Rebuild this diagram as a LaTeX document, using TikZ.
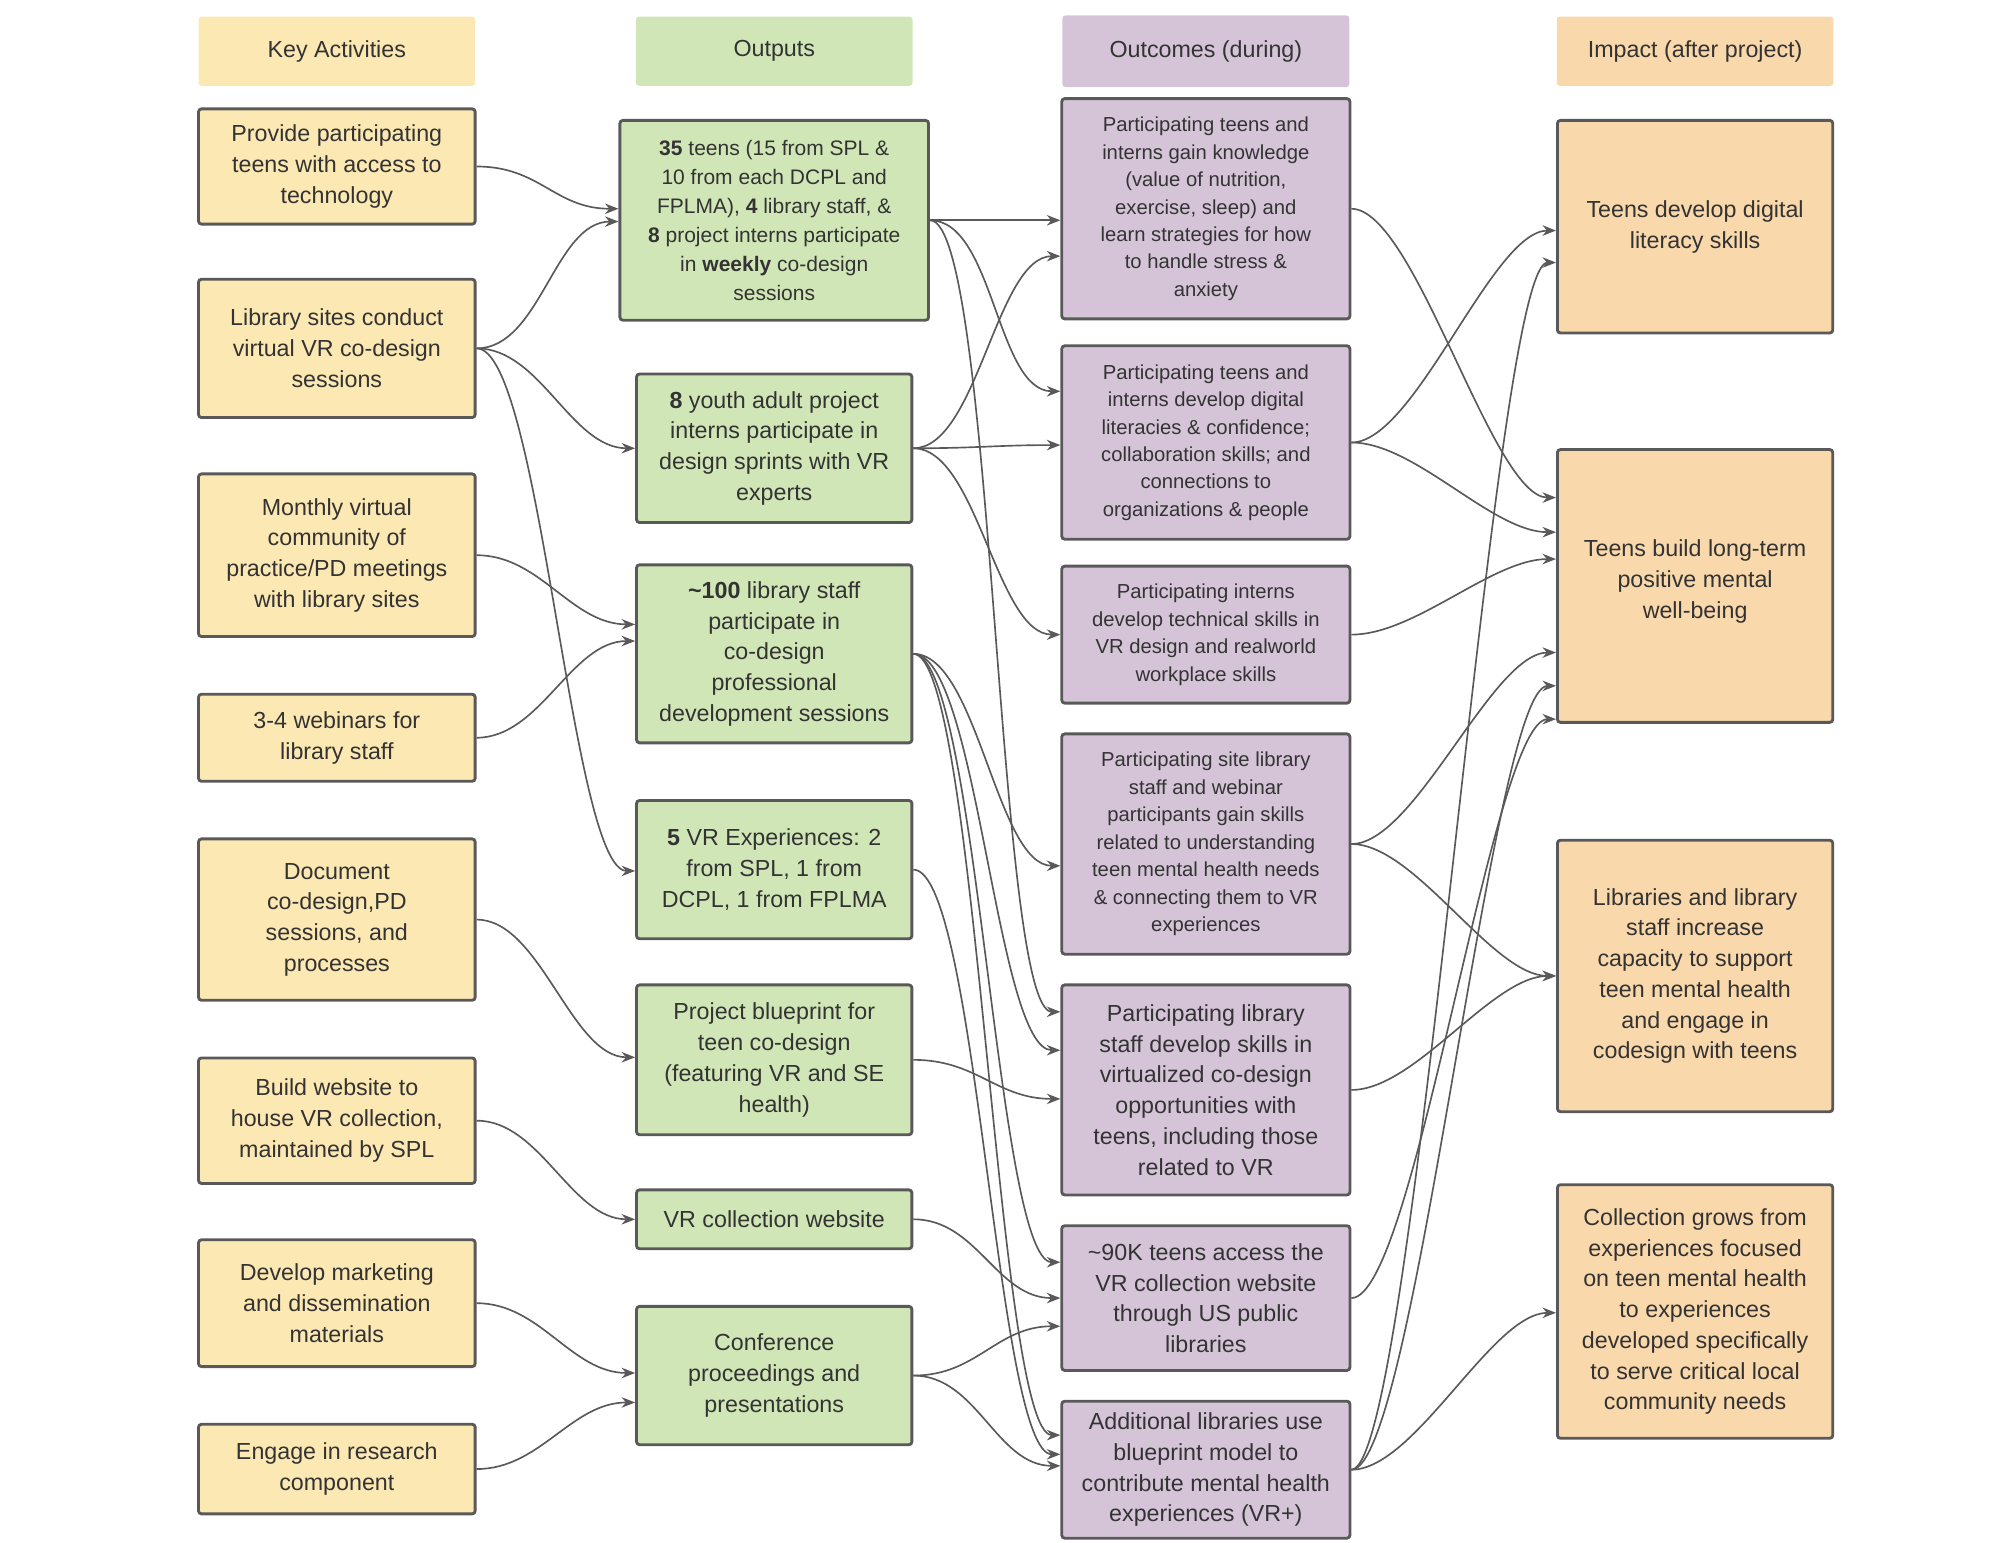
\documentclass[tikz,border=0pt]{standalone}
\usepackage{fontspec}
\setmainfont{Liberation Sans}
\usetikzlibrary{calc,arrows.meta}
\definecolor{yel}{HTML}{FCE8B2}
\definecolor{grn}{HTML}{D1E6B6}
\definecolor{pur}{HTML}{D5C4D8}
\definecolor{org}{HTML}{F9D8AC}
\definecolor{bd}{HTML}{595959}
\definecolor{tx}{HTML}{333333}
\tikzset{
 bx/.style n args={2}{draw=bd,line width=1.9pt,rounded corners=2pt,align=center,text=tx,
   minimum width=#1*0.03cm,minimum height=#2*0.03cm,inner sep=0pt,
   font=\fontsize{15.5}{20.5}\selectfont},
 pbx/.style n args={2}{bx={#1}{#2},font=\fontsize{13.5}{18.3}\selectfont},
 hd/.style={fill=#1,rounded corners=2pt,minimum width=216*0.03cm,minimum height=54*0.03cm,text=tx,font=\fontsize{15.5}{20}\selectfont},
 arr/.style={draw=bd,line width=1.1pt,-{Stealth[length=9pt,width=7pt]}}
}
\newcommand\ed[3]{\draw[arr] (#1.east) to[out=0,in=180,out distance=1.5cm,in distance=1.5cm] ($(#2.west)+(0,#3)$);}
\begin{document}
\begin{tikzpicture}[x=0.03cm,y=-0.03cm]
\useasboundingbox (0,0) rectangle (1560,1204);
\node[hd=yel] (h1) at (263,40) {Key Activities};
\node[hd=grn] (h2) at (604.5,40) {Outputs};
\node[hd=pur,minimum width=224*0.03cm,minimum height=56*0.03cm] (h3) at (941.5,40) {Outcomes (during)};
\node[hd=org] (h4) at (1323.5,40) {Impact (after project)};
% activities
\node[bx={216}{90},fill=yel] (A1) at (263,130) {Provide participating\\teens with access to\\technology};
\node[bx={216}{108},fill=yel] (A2) at (263,272) {Library sites conduct\\virtual VR co-design\\sessions};
\node[bx={216}{127},fill=yel] (A3) at (263,433.5) {Monthly virtual\\community of\\practice/PD meetings\\with library sites};
\node[bx={216}{68},fill=yel] (A4) at (263,576) {3-4 webinars for\\library staff};
\node[bx={216}{126},fill=yel] (A5) at (263,718) {Document\\co-design,PD\\sessions, and\\processes};
\node[bx={216}{98},fill=yel] (A6) at (263,875) {Build website to\\house VR collection,\\maintained by SPL};
\node[bx={216}{99},fill=yel] (A7) at (263,1017.5) {Develop marketing\\and dissemination\\materials};
\node[bx={216}{70},fill=yel] (A8) at (263,1147) {Engage in research\\component};
% outputs
\node[bx={241}{156},fill=grn,font=\fontsize{14}{19.4}\selectfont] (O1) at (604.5,172) {\textbf{35} teens (15 from SPL \&\\10 from each DCPL and\\FPLMA), \textbf{4} library staff, \&\\\textbf{8} project interns participate\\in \textbf{weekly} co-design\\sessions};
\node[bx={215}{116},fill=grn] (O2) at (604.5,350) {\textbf{8} youth adult project\\interns participate in\\design sprints with VR\\experts};
\node[bx={215}{139},fill=grn] (O3) at (604.5,510.5) {\textbf{\textasciitilde100} library staff\\participate in\\co-design\\professional\\development sessions};
\node[bx={215}{108},fill=grn] (O4) at (604.5,679) {\textbf{5} VR Experiences: 2\\from SPL, 1 from\\DCPL, 1 from FPLMA};
\node[bx={215}{117},fill=grn] (O5) at (604.5,827.5) {Project blueprint for\\teen co-design\\(featuring VR and SE\\health)};
\node[bx={215}{46},fill=grn] (O6) at (604.5,952) {VR collection website};
\node[bx={215}{108},fill=grn] (O7) at (604.5,1074) {Conference\\proceedings and\\presentations};
% outcomes
\node[pbx={225}{172},fill=pur] (P1) at (941.5,163) {Participating teens and\\interns gain knowledge\\(value of nutrition,\\exercise, sleep) and\\learn strategies for how\\to handle stress \&\\anxiety};
\node[pbx={225}{151},fill=pur] (P2) at (941.5,345.5) {Participating teens and\\interns develop digital\\literacies \& confidence;\\collaboration skills; and\\connections to\\organizations \& people};
\node[pbx={225}{107},fill=pur] (P3) at (941.5,495.5) {Participating interns\\develop technical skills in\\VR design and realworld\\workplace skills};
\node[pbx={225}{172},fill=pur] (P4) at (941.5,659) {Participating site library\\staff and webinar\\participants gain skills\\related to understanding\\teen mental health needs\\\& connecting them to VR\\experiences};
\node[bx={225}{164},fill=pur] (P5) at (941.5,851) {Participating library\\staff develop skills in\\virtualized co-design\\opportunities with\\teens, including those\\related to VR};
\node[bx={225}{113},fill=pur] (P6) at (941.5,1013.5) {\textasciitilde90K teens access the\\VR collection website\\through US public\\libraries};
\node[bx={225}{107},fill=pur] (P7) at (941.5,1147.5) {Additional libraries use\\blueprint model to\\contribute mental health\\experiences (VR+)};
% impact
\node[bx={215}{166},fill=org] (I1) at (1323.5,177) {Teens develop digital\\literacy skills};
\node[bx={215}{213},fill=org] (I2) at (1323.5,457.5) {};
\node[align=center,text=tx,font=\fontsize{15.5}{20.5}\selectfont,inner sep=0pt] (I2t) at (1323.5,454) {Teens build long-term\\positive mental\\well-being};
\node[bx={215}{212},fill=org] (I3) at (1323.5,762) {Libraries and library\\staff increase\\capacity to support\\teen mental health\\and engage in\\codesign with teens};
\node[bx={215}{198},fill=org] (I4) at (1323.5,1024) {Collection grows from\\experiences focused\\on teen mental health\\to experiences\\developed specifically\\to serve critical local\\community needs};
% edges activities -> outputs
\ed{A1}{O1}{-9}
\ed{A2}{O1}{1}
\ed{A2}{O2}{0}
\ed{A2}{O4}{1}
\ed{A3}{O3}{-23}
\ed{A4}{O3}{-10}
\ed{A5}{O5}{-2}
\ed{A6}{O6}{0}
\ed{A7}{O7}{-2}
\ed{A8}{O7}{21}
% outputs -> outcomes
\ed{O1}{P1}{9}
\ed{O1}{P2}{-40}
\ed{O1}{P5}{-61}
\ed{O2}{P1}{37}
\ed{O2}{P2}{2}
\ed{O2}{P3}{0}
\ed{O3}{P4}{17}
\ed{O3}{P5}{-31}
\ed{O3}{P6}{-28}
\ed{O3}{P7}{-27}
\ed{O4}{P7}{-12}
\ed{O5}{P5}{7}
\ed{O6}{P6}{0}
\ed{O7}{P6}{22}
\ed{O7}{P7}{-3}
% outcomes -> impact
\ed{P1}{I2}{-69}
\ed{P2}{I1}{3}
\ed{P2}{I2}{-42}
\ed{P3}{I2}{-21}
\ed{P4}{I2}{52}
\ed{P4}{I3}{0}
\ed{P5}{I3}{0}
\ed{P6}{I2}{104}
\ed{P7}{I1}{28}
\ed{P7}{I2}{78}
\ed{P7}{I4}{1}
\end{tikzpicture}
\end{document}
